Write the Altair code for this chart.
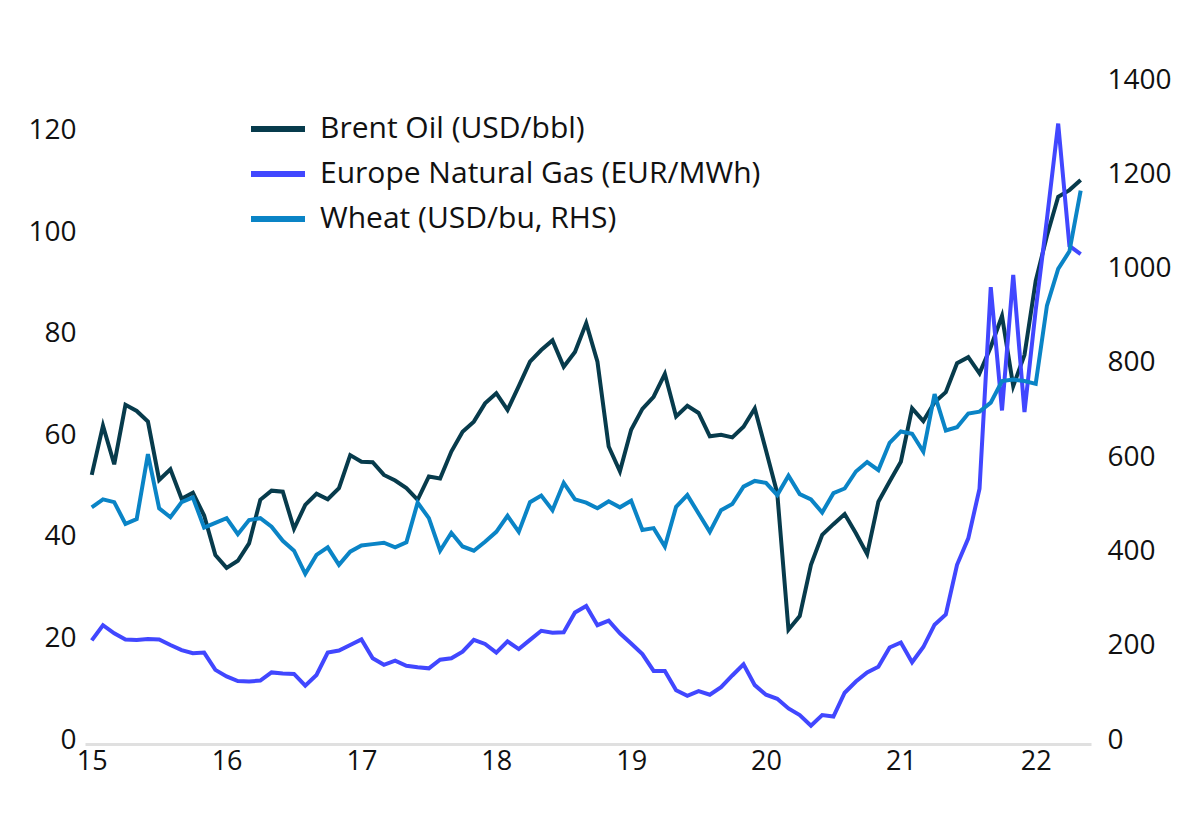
import altair as alt
import pandas as pd

# Monthly values, Jan 2015 .. May 2022
brent = [53.0, 62.7, 55.1, 66.8, 65.6, 63.5, 52.0, 54.1, 48.3, 49.5, 45.0, 37.2,
         34.7, 36.1, 39.5, 48.1, 49.9, 49.7, 42.4, 47.1, 49.3, 48.2, 50.4, 56.9,
         55.6, 55.5, 53.0, 51.9, 50.4, 48.1, 52.7, 52.3, 57.6, 61.5, 63.5, 67.1,
         69.1, 65.8, 70.5, 75.3, 77.6, 79.5, 74.3, 77.2, 82.9, 75.3, 58.6, 53.7,
         61.9, 66.0, 68.4, 72.9, 64.5, 66.6, 65.2, 60.6, 60.9, 60.4, 62.5, 66.1,
         57.8, 49.4, 22.5, 25.2, 35.3, 41.2, 43.3, 45.3, 41.5, 37.4, 47.7, 51.7,
         55.6, 66.1, 63.6, 67.3, 69.3, 75.0, 76.2, 73.0, 78.2, 84.3, 70.5, 76.6,
         91.2, 100.1, 107.8, 109.1, 111.1]
gas = [20.4, 23.4, 21.8, 20.6, 20.5, 20.7, 20.6, 19.5, 18.5, 17.9, 18.0, 14.6,
       13.3, 12.4, 12.3, 12.5, 14.1, 13.9, 13.8, 11.5, 13.6, 18.0, 18.4, 19.5,
       20.6, 16.9, 15.6, 16.4, 15.4, 15.1, 14.9, 16.6, 16.9, 18.2, 20.5, 19.7,
       18.0, 20.2, 18.7, 20.5, 22.3, 21.9, 22.0, 25.9, 27.2, 23.4, 24.3, 21.8,
       19.8, 17.7, 14.4, 14.4, 10.6, 9.5, 10.4, 9.7, 11.2, 13.5, 15.7, 11.6,
       9.7, 8.9, 7.0, 5.7, 3.6, 5.7, 5.4, 10.1, 12.3, 14.1, 15.2, 19.0,
       20.0, 16.1, 19.1, 23.5, 25.5, 35.3, 40.5, 50.3, 90.0, 65.7, 92.4, 65.4,
       85.5, 103.4, 122.2, 98.1, 96.5]
wheat = [502, 519, 513, 467, 477, 615, 500, 481, 513, 523, 459, 469,
         479, 445, 475, 479, 461, 431, 410, 361, 401, 417, 380, 408,
         421, 424, 427, 417, 428, 512, 479, 410, 448, 419, 410, 429,
         450, 484, 450, 513, 527, 496, 554, 519, 512, 500, 515, 502,
         516, 454, 458, 419, 503, 528, 489, 450, 496, 509, 546, 558,
         554, 528, 569, 530, 519, 491, 532, 542, 578, 598, 581, 639,
         663, 658, 620, 742, 665, 672, 701, 705, 724, 770, 773, 770,
         764, 930, 1008, 1045, 1174]

series_names = ["Brent Oil (USD/bbl)", "Europe Natural Gas (EUR/MWh)", "Wheat (USD/bu, RHS)"]
series_colors = ["#073b4c", "#4147ff", "#0a84c6"]
year_ticks = [15, 16, 17, 18, 19, 20, 21, 22]
left_ticks = [0, 20, 40, 60, 80, 100, 120]
right_ticks = [0, 200, 400, 600, 800, 1000, 1200, 1400]
start_year = 15

n = len(brent)
t = [start_year + i / 12 for i in range(n)]
df_left = pd.DataFrame({
    "t": t + t,
    "value": brent + gas,
    "series": [series_names[0]] * n + [series_names[1]] * n,
})
df_right = pd.DataFrame({"t": t, "value": wheat, "series": [series_names[2]] * n})

FONT = "Open Sans"
INK = "#111111"

x_enc = alt.X("t:Q",
              scale=alt.Scale(domain=[14.95, 22.41], nice=False, zero=False),
              axis=alt.Axis(values=year_ticks, format="d", title=None, grid=False,
                            ticks=False, domainColor="#e0e0e0", domainWidth=3,
                            labelFontSize=27, labelPadding=4, labelColor=INK,
                            labelFont=FONT))

color_enc = alt.Color("series:N",
                      scale=alt.Scale(domain=series_names, range=series_colors),
                      legend=alt.Legend(title=None, orient="none", legendX=163, legendY=15,
                                        symbolType="stroke", symbolSize=2916,
                                        symbolStrokeWidth=6, labelFontSize=30,
                                        labelFont=FONT, labelColor=INK,
                                        labelOffset=12, rowPadding=-3, padding=0,
                                        labelLimit=700))

left = alt.Chart(df_left).mark_line(strokeWidth=4).encode(
    x=x_enc,
    y=alt.Y("value:Q", scale=alt.Scale(domain=[0, 130], nice=False),
            axis=alt.Axis(orient="left", values=left_ticks, title=None, grid=False,
                          ticks=False, domain=False, labelFontSize=28, labelPadding=9,
                          labelOffset=-4, labelColor=INK, labelFont=FONT)),
    color=color_enc,
    detail="series:N",
)

right = alt.Chart(df_right).mark_line(strokeWidth=4).encode(
    x=x_enc,
    y=alt.Y("value:Q", scale=alt.Scale(domain=[0, 1400], nice=False),
            axis=alt.Axis(orient="right", values=right_ticks, format="d", title=None,
                          grid=False, ticks=False, domain=False, labelFontSize=28,
                          labelPadding=16, labelOffset=-4, labelColor=INK,
                          labelFont=FONT)),
    color=color_enc,
)

chart = alt.layer(left, right).resolve_scale(y="independent").properties(
    width=1006, height=660,
    autosize=alt.AutoSizeParams(type="none"),
    padding={"left": 85, "top": 84, "right": 109, "bottom": 79},
    background="white",
).configure_view(stroke=None)

chart.save("out.html", embed_options={"renderer": "svg", "actions": False})
